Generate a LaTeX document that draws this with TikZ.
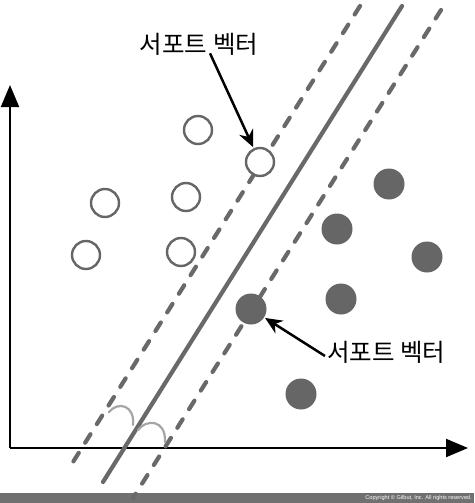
\documentclass[tikz,border=0pt]{standalone}
\usepackage{fontspec}
\newfontfamily\kr{Noto Sans CJK KR}
\newfontfamily\cpy{Liberation Sans}
\usetikzlibrary{arrows.meta}
\definecolor{dotgray}{RGB}{102,102,102}
\definecolor{linegray}{RGB}{105,105,105}
\definecolor{arcgray}{RGB}{165,165,165}
\definecolor{bargray}{RGB}{112,112,112}
\tikzset{
  opendot/.style={circle,draw=dotgray,line width=2.4pt,fill=white,minimum size=28pt,inner sep=0pt},
  fulldot/.style={circle,fill=dotgray,minimum size=31pt,inner sep=0pt},
  axis/.style={line width=2pt,black,-{Triangle[length=22pt,width=18pt]}},
  margin/.style={line width=4.2pt,linegray,line cap=round,dash pattern=on 10pt off 12pt},
  hyper/.style={line width=4.2pt,linegray,line cap=round},
  arcmark/.style={line width=2.2pt,arcgray,line cap=round},
  label/.style={font=\kr\fontsize{24.5}{28}\selectfont,inner sep=0pt},
  pointer/.style={line width=2.5pt,black,-{Stealth[length=17pt,width=15pt]},shorten >=1pt}
}
\begin{document}
\begin{tikzpicture}[x=1pt,y=-1pt]
\useasboundingbox (0,0) rectangle (474,503);
% bottom bar
\fill[bargray] (0,493) rectangle (474,503);
\node[anchor=east,text=white,font=\cpy\fontsize{5.6}{6}\selectfont,inner sep=0pt] (copy) at (472,498) {Copyright \textcopyright{} Gilbut, Inc. All rights reserved.};
% axes
\coordinate (o) at (10,448);
\coordinate (ytip) at (10,85);
\coordinate (xtip) at (468,448);
\draw[axis] (o) -- (ytip);
\draw[axis] (o) -- (xtip);
% hyperplane and margins
\coordinate (h1) at (103,482); \coordinate (h2) at (402,6);
\coordinate (l1) at (73,462);  \coordinate (l2) at (360,6);
\coordinate (r1) at (133,498); \coordinate (r2) at (441,10);
\draw[margin] (l2) -- (l1);
\draw[margin] (r2) -- (r1);
\draw[hyper] (h1) -- (h2);
% margin arcs
\coordinate (a1s) at (109,412); \coordinate (a1e) at (133,425);
\coordinate (a2s) at (138,430); \coordinate (a2e) at (165,442);
\draw[arcmark] (a1s) .. controls (118,401) and (135,405) .. (a1e);
\draw[arcmark] (a2s) .. controls (146,419) and (166,419) .. (a2e);
% open points
\node[opendot] (o1) at (198,130) {};
\node[opendot] (o2) at (105,203) {};
\node[opendot] (o3) at (186,197) {};
\node[opendot] (o4) at (86,255) {};
\node[opendot] (o5) at (181,252) {};
\node[opendot] (sv1) at (260,162) {};
% filled points
\node[fulldot] (f1) at (389,184) {};
\node[fulldot] (f2) at (337,229) {};
\node[fulldot] (f3) at (427,257) {};
\node[fulldot] (f4) at (341,299) {};
\node[fulldot] (f5) at (301,394) {};
\node[fulldot] (sv2) at (251,309) {};
% labels
\node[label] (lab1) at (199,44) {서포트 벡터};
\node[label,anchor=west] (lab2) at (327,352) {서포트 벡터};
\draw[pointer] ([xshift=11pt,yshift=2pt]lab1.south) -- (sv1);
\draw[pointer] ([xshift=-2pt,yshift=-4pt]lab2.west) -- (sv2);
\end{tikzpicture}
\end{document}
